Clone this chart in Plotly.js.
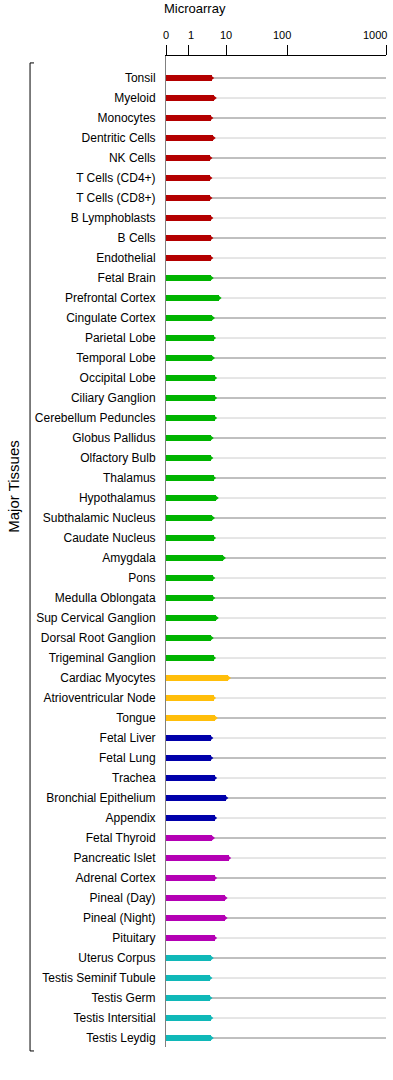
<!DOCTYPE html>
<html>
<head>
<meta charset="utf-8">
<script src="https://cdn.plot.ly/plotly-3.0.1.min.js"></script>
<style>
  html, body { margin: 0; padding: 0; background: #ffffff; }
  #chart { width: 393px; height: 1080px; }
</style>
</head>
<body>
<div id="chart"></div>
<script>
// ---------------- data ----------------
const tissues = [
  'Tonsil', 'Myeloid', 'Monocytes', 'Dentritic Cells', 'NK Cells',
  'T Cells (CD4+)', 'T Cells (CD8+)', 'B Lymphoblasts', 'B Cells', 'Endothelial',
  'Fetal Brain', 'Prefrontal Cortex', 'Cingulate Cortex', 'Parietal Lobe', 'Temporal Lobe',
  'Occipital Lobe', 'Ciliary Ganglion', 'Cerebellum Peduncles', 'Globus Pallidus', 'Olfactory Bulb',
  'Thalamus', 'Hypothalamus', 'Subthalamic Nucleus', 'Caudate Nucleus', 'Amygdala',
  'Pons', 'Medulla Oblongata', 'Sup Cervical Ganglion', 'Dorsal Root Ganglion', 'Trigeminal Ganglion',
  'Cardiac Myocytes', 'Atrioventricular Node', 'Tongue',
  'Fetal Liver', 'Fetal Lung', 'Trachea', 'Bronchial Epithelium', 'Appendix',
  'Fetal Thyroid', 'Pancreatic Islet', 'Adrenal Cortex', 'Pineal (Day)', 'Pineal (Night)', 'Pituitary',
  'Uterus Corpus', 'Testis Seminif Tubule', 'Testis Germ', 'Testis Intersitial', 'Testis Leydig'
];

const tissueGroups = [
  'immune', 'immune', 'immune', 'immune', 'immune',
  'immune', 'immune', 'immune', 'immune', 'immune',
  'nervous', 'nervous', 'nervous', 'nervous', 'nervous',
  'nervous', 'nervous', 'nervous', 'nervous', 'nervous',
  'nervous', 'nervous', 'nervous', 'nervous', 'nervous',
  'nervous', 'nervous', 'nervous', 'nervous', 'nervous',
  'muscle', 'muscle', 'muscle',
  'epithelial', 'epithelial', 'epithelial', 'epithelial', 'epithelial',
  'endocrine', 'endocrine', 'endocrine', 'endocrine', 'endocrine', 'endocrine',
  'reproductive', 'reproductive', 'reproductive', 'reproductive', 'reproductive'
];

const microarrayValues = [
  4.0, 4.7, 3.8, 4.4, 3.6,
  3.6, 3.6, 3.8, 3.8, 3.8,
  3.9, 6.3, 4.2, 4.5, 4.2,
  4.8, 4.8, 4.8, 3.9, 3.8,
  4.5, 5.3, 4.2, 4.5, 8.2,
  4.3, 4.3, 5.3, 3.9, 4.5,
  10.7, 4.5, 5.0,
  3.8, 3.8, 4.8, 9.5, 4.8,
  4.2, 10.8, 4.8, 9.1, 9.1, 4.8,
  3.9, 3.6, 3.6, 3.8, 3.9
];

const tickValues = [0, 1, 10, 100, 1000];
const tickLabels = ['0', '1', '10', '100', '1000'];

// ---------------- styles / scale ----------------
const groupColors = {
  immune: '#b40000',
  nervous: '#00b400',
  muscle: '#ffbe0a',
  epithelial: '#0000aa',
  endocrine: '#b400b4',
  reproductive: '#10b8b8'
};

// axis fraction at each tick value (custom compressed scale of the original chart)
const tickFrac = [0, 0.1045, 0.2759, 0.5514, 1];
function scaleX(v) {
  if (v <= tickValues[1]) return (v / tickValues[1]) * tickFrac[1];
  for (let k = 1; k < tickValues.length - 1; k++) {
    if (v <= tickValues[k + 1]) {
      const t = Math.log10(v / tickValues[k]) / Math.log10(tickValues[k + 1] / tickValues[k]);
      return tickFrac[k] + t * (tickFrac[k + 1] - tickFrac[k]);
    }
  }
  return 1;
}

const idx = tissues.map((_, i) => i);
const scaled = microarrayValues.map(scaleX);
const colors = tissueGroups.map(g => groupColors[g]);

const traces = [
  { type: 'bar', orientation: 'h', x: scaled, y: idx, base: 0, width: 0.26,
    marker: { color: colors, line: { width: 0 } }, showlegend: false,
    textposition: 'none', hoverinfo: 'skip' },
  { type: 'scatter', mode: 'markers', x: scaled, y: idx,
    marker: { symbol: 'triangle-right', size: 5, color: colors, line: { width: 0 } },
    hoverinfo: 'skip', showlegend: false, cliponaxis: false }
];

const FONT = 'Liberation Sans, Arial, sans-serif';
const labelShift = [0, 1.7, -1, -5, -11.5];

const annotations = tickValues.map((v, k) => ({
  xref: 'x', yref: 'paper', x: scaleX(v), y: 1,
  text: tickLabels[k], showarrow: false,
  xanchor: 'center', yanchor: 'middle', xshift: labelShift[k], yshift: 21,
  font: { family: FONT, size: 11, color: '#000000' }
}));

annotations.push({
  xref: 'paper', yref: 'paper', x: -0.697, y: 0.566,
  text: 'Major Tissues', showarrow: false, textangle: -90,
  xanchor: 'center', yanchor: 'middle',
  font: { family: 'Liberation Sans Narrow, Arial Narrow, ' + FONT, size: 15, color: '#000000' }
});

// background row lines (alternating dark / light), below the bars
const shapes = idx.map(i => ({
  type: 'line', layer: 'below', xref: 'x', yref: 'y',
  x0: scaleX(tickValues[0]), x1: scaleX(tickValues[tickValues.length - 1]), y0: i, y1: i,
  line: { color: i % 2 === 0 ? '#808080' : '#cccccc', width: 1 }
}));

const bx = -0.618, bx2 = -0.6, byTop = 0.993, byBot = -0.004;
shapes.push(
  { type: 'line', xref: 'paper', yref: 'paper', x0: bx, x1: bx, y0: byBot, y1: byTop, line: { color: '#000000', width: 1 } },
  { type: 'line', xref: 'paper', yref: 'paper', x0: bx, x1: bx2, y0: byTop, y1: byTop, line: { color: '#000000', width: 1 } },
  { type: 'line', xref: 'paper', yref: 'paper', x0: bx, x1: bx2, y0: byBot, y1: byBot, line: { color: '#000000', width: 1 } }
);

const layout = {
  width: 393, height: 1080,
  margin: { l: 166, r: 7, t: 56, b: 33, pad: 0 },
  paper_bgcolor: '#ffffff', plot_bgcolor: '#ffffff',
  font: { family: FONT, size: 12, color: '#000000' },
  title: { text: 'Microarray', x: 164 / 393, xanchor: 'left', xref: 'container',
           y: 1 - 8 / 1080, yanchor: 'middle', yref: 'container',
           font: { family: FONT, size: 13, color: '#000000' } },
  xaxis: {
    side: 'top', range: [0, 1], fixedrange: true,
    tickmode: 'array', tickvals: tickValues.map(scaleX), showticklabels: false,
    ticks: 'outside', ticklen: 10, tickwidth: 1, tickcolor: '#000000',
    showline: true, linecolor: '#000000', linewidth: 1,
    showgrid: false, zeroline: false
  },
  yaxis: {
    range: [48.45, -1.1], fixedrange: true,
    tickmode: 'array', tickvals: idx, ticktext: tissues,
    ticks: '', ticklabelstandoff: 7,
    tickfont: { family: FONT, size: 12, color: '#000000' },
    showline: true, linecolor: '#808080', linewidth: 1,
    showgrid: false, zeroline: false
  },
  annotations: annotations,
  shapes: shapes,
  showlegend: false,
  bargap: 0
};

Plotly.newPlot('chart', traces, layout, { displayModeBar: false, staticPlot: true });
</script>
</body>
</html>
